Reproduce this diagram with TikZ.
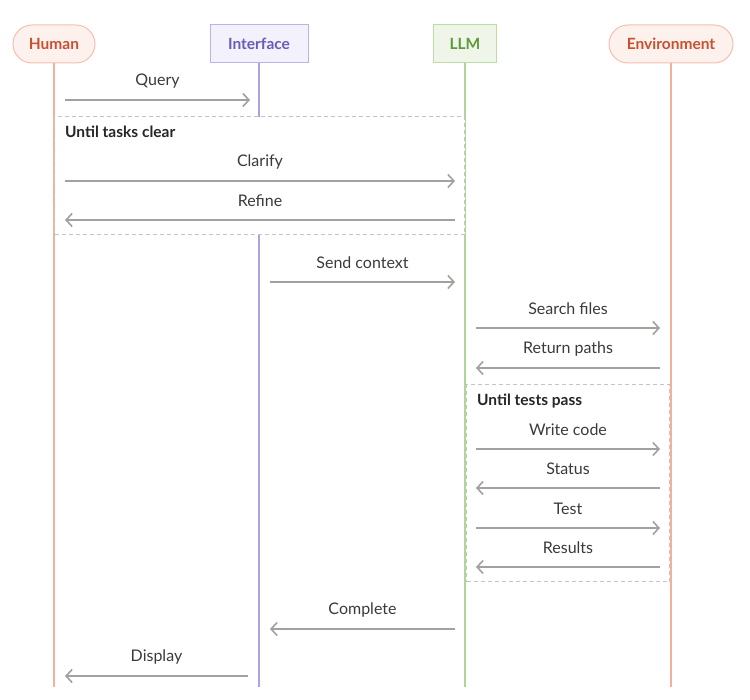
\documentclass[tikz,border=0pt]{standalone}
\usepackage{fontspec}
\setmainfont{Lato}
\usetikzlibrary{arrows.meta}
\definecolor{hfill}{HTML}{FDF1ED}
\definecolor{hdraw}{HTML}{F5BFAE}
\definecolor{hline}{HTML}{F3B09C}
\definecolor{htext}{HTML}{C8502E}
\definecolor{ifill}{HTML}{F3F1FB}
\definecolor{idraw}{HTML}{BBB2EA}
\definecolor{iline}{HTML}{ACA2E6}
\definecolor{itext}{HTML}{6A5BB8}
\definecolor{lfill}{HTML}{EFF6E9}
\definecolor{ldraw}{HTML}{BCDDA4}
\definecolor{lline}{HTML}{AED695}
\definecolor{ltext}{HTML}{5C9A3C}
\definecolor{arr}{HTML}{A2A19D}
\definecolor{loopc}{HTML}{C4C4C0}
\definecolor{txt}{HTML}{3A3A38}
\tikzset{
  x=1pt, y=-1pt,
  head/.style={minimum height=38pt, inner xsep=12pt, line width=1pt, font=\fontsize{15.5}{17}\selectfont\bfseries},
  pill/.style={head, rounded corners=19pt, fill=hfill, draw=hdraw, text=htext},
  ibox/.style={head, fill=ifill, draw=idraw, text=itext},
  lbox/.style={head, fill=lfill, draw=ldraw, text=ltext},
  life/.style={line width=1.3pt},
  msg/.style={draw=arr, line width=1.8pt, -{Straight Barb[length=6pt,width=13pt,line width=1.6pt]}},
  mlabel/.style={font=\fontsize{16}{18}\selectfont, text=txt, inner sep=0pt},
  loopbox/.style={draw=loopc, fill=white, line width=1.3pt, dash pattern=on 4pt off 3pt},
  looplabel/.style={font=\fontsize{15.5}{17}\selectfont\bfseries, text=black!85, anchor=west, inner sep=0pt},
}
\begin{document}
\begin{tikzpicture}
\useasboundingbox (0,0) rectangle (750,700);
% heads
\node[pill, minimum width=82pt] (H) at (54,44) {Human};
\node[ibox, minimum width=98pt] (I) at (259,44) {Interface};
\node[lbox, minimum width=63pt] (L) at (465,44) {LLM};
\node[pill, minimum width=124pt] (E) at (671,44) {Environment};
% lifelines
\coordinate (Hb) at (54,687);
\coordinate (Ib) at (260,687);
\coordinate (Lb) at (465,687);
\coordinate (Eb) at (671,687);
\draw[life, draw=hline] (H.south) -- (H.south |- Hb);
\draw[life, draw=iline] (I.south) -- (I.south |- Ib);
\draw[life, draw=lline] (L.south) -- (L.south |- Lb);
\draw[life, draw=hline] (E.south) -- (E.south |- Eb);
% loop boxes
\node[loopbox, minimum width=410pt, minimum height=118pt, anchor=north west, inner sep=0pt] (loopA) at (54,116) {};
\node[looplabel] (loopAl) at (65,132) {Until tasks clear};
\node[loopbox, minimum width=203pt, minimum height=197pt, anchor=north west, inner sep=0pt] (loopB) at (466,384) {};
\node[looplabel] (loopBl) at (477,401) {Until tests pass};
% message endpoints
\newcommand{\msgline}[5]{%
  \coordinate (#5s) at (#1,#3);
  \coordinate (#5e) at (#2,#3);
  \draw[msg] (#5s) -- (#5e);
  \node[mlabel] (#5l) at ({(#1+#2)/2},#3-19) {#4};
}
\msgline{65}{250}{100}{Query}{m1}
\msgline{65}{455}{181}{Clarify}{m2}
\msgline{455}{65}{220}{Refine}{m3}
\msgline{270}{455}{282}{Send context}{m4}
\msgline{476}{660}{328}{Search files}{m5}
\msgline{660}{476}{368}{Return paths}{m6}
\msgline{476}{660}{449}{Write code}{m7}
\msgline{660}{476}{488}{Status}{m8}
\msgline{476}{660}{528}{Test}{m9}
\msgline{660}{476}{567}{Results}{m10}
\msgline{455}{270}{629}{Complete}{m11}
\msgline{248}{65}{676}{Display}{m12}
\end{tikzpicture}
\end{document}
